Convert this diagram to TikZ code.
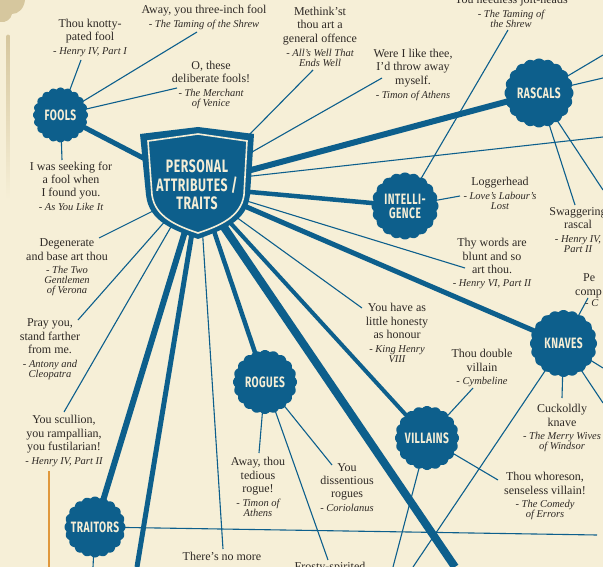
\documentclass[tikz,border=0pt]{standalone}
\usepackage{fontspec}
\setmainfont{Liberation Serif}
\newfontfamily\badgefam[FakeStretch=0.68,LetterSpace=3]{Fira Sans}
\definecolor{bgc}{HTML}{F6EFD7}
\definecolor{navy}{HTML}{0D5F8C}
\definecolor{ink}{HTML}{2E2925}
\definecolor{cream}{HTML}{F5EED6}
\definecolor{orng}{HTML}{E0983C}
\definecolor{tanc}{HTML}{D6C79E}
\pgfdeclarelayer{back}
\pgfdeclarelayer{bg}
\pgfsetlayers{back,bg,main}
\tikzset{
  qtext/.style={anchor=north, align=center, inner sep=0pt, text=ink, font=\fontsize{12}{13.3}\selectfont},
  ctext/.style={anchor=north, align=center, inner sep=0pt, text=ink, font=\itshape\fontsize{10.5}{10}\selectfont},
  conn/.style={draw=navy, line width=1.1pt},
  sconn/.style={conn, shorten <=-10pt},
  trunk/.style={draw=navy, line width=#1, shorten <=-12pt},
  badgelbl/.style={inner sep=0pt, text=cream, align=center, font=\badgefam\bfseries\fontsize{15}{14}\selectfont},
  shieldlbl/.style={inner sep=0pt, text=cream, align=center, font=\badgefam\bfseries\fontsize{18}{18.5}\selectfont},
}
\newcommand\qt[5]{%
  \node[qtext] (#1) at (#2,#3-9) {\rule{0pt}{9pt}#4\rule[-3pt]{0pt}{3pt}};
  \node[ctext] (#1c) at ([yshift=-3.3pt]#1.south) {\rule{0pt}{7pt}#5};}
\newcommand\badge[5]{%
  \fill[navy] plot[domain=0:360, samples=361, variable=\t]
    ({#2+(#4-1.8+1.8*abs(cos(10*\t)))*cos(\t)}, {#3+(#4-1.8+1.8*abs(cos(10*\t)))*sin(\t)}) -- cycle;
  \node[badgelbl] (#1) at (#2,#3) {#5};}
\begin{document}
\begin{tikzpicture}[x=1pt,y=-1pt]
\useasboundingbox (0,0) rectangle (603,567);
\begin{pgfonlayer}{back}
  \fill[bgc] (0,0) rectangle (603,567);
  \fill[tanc] (0,0) -- (0,22) .. controls (6,23) and (11,19) .. (12,14) .. controls (18,14) and (24,9) .. (25,0) -- cycle;
  \shade[top color=tanc, bottom color=bgc] (6.5,36) rectangle (9.5,200);
  \fill[tanc] (8,36) circle (1.5);
\end{pgfonlayer}
\draw[orng, line width=1.6pt] (49,471) -- (49,567);

% shield
\fill[navy] (140,134) -- (198,127) -- (254,134) -- (250,195) .. controls (247,222) and (222,230) .. (198,239) .. controls (174,230) and (149,222) .. (146,195) -- cycle;
\draw[cream, line width=1.6pt] (148,141) -- (198,134) -- (247,141) -- (244,195) .. controls (241,217) and (219,226) .. (198,233) .. controls (177,226) and (155,217) .. (152,195) -- cycle;
\node[shieldlbl] (shield) at (197,185) {PERSONAL\\ATTRIBUTES /\\TRAITS};

% badges
\badge{fools}{60.5}{115}{27.5}{FOOLS}
\badge{rascals}{539}{93}{34.5}{RASCALS}
\badge{intel}{405}{206}{33.5}{INTELLI-\\GENCE}
\badge{knaves}{563.5}{343.5}{33.5}{KNAVES}
\badge{rogues}{265}{382}{32}{ROGUES}
\badge{villains}{427}{438}{32}{VILLAINS}
\badge{traitors}{95}{527}{30.5}{TRAITORS}

% quotes
\qt{knotty}{90}{27}{Thou knotty-\\pated fool}{- Henry IV, Part I}
\qt{awayfool}{204}{13}{Away, you three-inch fool}{- The Taming of the Shrew}
\qt{delib}{211}{69}{O, these\\deliberate fools!}{- The Merchant\\of Venice}
\qt{seeking}{71}{170}{I was seeking for\\a fool when\\I found you.}{- As You Like It}
\qt{methink}{320}{15.5}{Methink’st\\thou art a\\general offence}{- All’s Well That\\Ends Well}
\qt{were}{413}{57.5}{Were I like thee,\\I’d throw away\\myself.}{- Timon of Athens}
\qt{jolt}{511}{3.5}{You needless jolt-heads}{- The Taming of\\the Shrew}
\qt{logger}{500}{185.5}{Loggerhead}{- Love’s Labour’s\\Lost}
\qt{swagger}{578}{215.5}{Swaggering\\rascal}{- Henry IV,\\Part II}
\qt{thy}{492}{246.5}{Thy words are\\blunt and so\\art thou.}{- Henry VI, Part II}
\qt{honesty}{397}{311.5}{You have as\\little honesty\\as honour}{- King Henry\\VIII}
\qt{double}{482}{357.5}{Thou double\\villain}{- Cymbeline}
\qt{cuckold}{562}{412.5}{Cuckoldly\\knave}{- The Merry Wives\\of Windsor}
\qt{whoreson}{545}{480.5}{Thou whoreson,\\senseless villain!}{- The Comedy\\of Errors}
\qt{tedious}{258}{465.5}{Away, thou\\tedious\\rogue!}{- Timon of\\Athens}
\qt{dissent}{347}{471}{You\\dissentious\\rogues}{- Coriolanus}
\qt{scullion}{64}{423.5}{You scullion,\\you rampallian,\\you fustilarian!}{- Henry IV, Part II}
\qt{pray}{50}{326.5}{Pray you,\\stand farther\\from me.}{- Antony and\\Cleopatra}
\qt{degen}{67}{246.5}{Degenerate\\and base art thou}{- The Two\\Gentlemen\\of Verona}
\node[qtext] (nomore) at (222,551.5) {\rule{0pt}{9pt}There’s no more};
\node[qtext] (frosty) at (330,561) {\rule{0pt}{9pt}Frosty-spirited};
\node[qtext, anchor=north west, align=left] (peev) at (575,272.5) {\rule{0pt}{9pt}\hspace*{8pt}Pe\\comp};
\node[ctext, anchor=north west] (peevc) at (585,299) {\rule{0pt}{7pt}- C};

% connector end points
\coordinate (sFo) at (147,160);
\coordinate (sMe) at (250,134);
\coordinate (sWe) at (252,152);
\coordinate (sRa) at (251,170);
\coordinate (sOff) at (252,176);
\coordinate (sIn) at (250,192);
\coordinate (sTh) at (250,202);
\coordinate (sKn) at (249,208);
\coordinate (sHo) at (243,222);
\coordinate (sVi) at (235,228);
\coordinate (sBig) at (228,233);
\coordinate (sRo) at (216,237);
\coordinate (sNo) at (203,240);
\coordinate (sDn) at (191,239);
\coordinate (sTr) at (183,238);
\coordinate (sSc) at (168,232);
\coordinate (sPr) at (160,227);
\coordinate (sDe) at (149,213);
\coordinate (tKnotty) at (81,60);
\coordinate (tAway) at (197,32);
\coordinate (tDelib) at (177,88);
\coordinate (tSeek) at (62,160);
\coordinate (tMeth) at (313,70);
\coordinate (tWere) at (382,78);
\coordinate (tOff) at (603,137);
\coordinate (tThy) at (465,268);
\coordinate (tHon) at (362,308);
\coordinate (tBig) at (455,567);
\coordinate (tNo) at (223,549);
\coordinate (tDn) at (137,567);
\coordinate (tScul) at (64,412);
\coordinate (tPray) at (78,320);
\coordinate (tDeg) at (99,238);
\coordinate (tJolt) at (508,30);
\coordinate (tLog) at (460,196);
\coordinate (tRa1) at (603,55);
\coordinate (tRa2) at (603,78);
\coordinate (tSwag) at (575,205);
\coordinate (tRa3) at (603,190);
\coordinate (tComp) at (588,298);
\coordinate (tKn1) at (603,368);
\coordinate (tKn2) at (603,403);
\coordinate (tCuck) at (562,398);
\coordinate (tKn3) at (413,567);
\coordinate (tDoub) at (473,388);
\coordinate (tWhor) at (498,480);
\coordinate (tVi) at (393,567);
\coordinate (tTed) at (259,453);
\coordinate (tDis) at (332,465);
\coordinate (tFro) at (328,560);
\coordinate (tTr1) at (597,535);
\coordinate (tTr2) at (93,567);

\begin{pgfonlayer}{bg}
  \draw[trunk=5pt] (sFo) -- (fools.center);
  \draw[trunk=6pt] (sRa) -- (rascals.center);
  \draw[trunk=4.5pt] (sIn) -- (intel.center);
  \draw[trunk=5pt] (sKn) -- (knaves.center);
  \draw[trunk=4pt] (sVi) -- (villains.center);
  \draw[trunk=8pt] (sBig) -- (tBig);
  \draw[trunk=4.5pt] (sRo) -- (rogues.center);
  \draw[trunk=5pt] (sDn) -- (tDn);
  \draw[trunk=6pt] (sTr) -- (traitors.center);
  \draw[sconn] (sMe) -- (tMeth);
  \draw[sconn] (sWe) -- (tWere);
  \draw[sconn] (sOff) -- (tOff);
  \draw[sconn] (sTh) -- (tThy);
  \draw[sconn] (sHo) -- (tHon);
  \draw[sconn] (sNo) -- (tNo);
  \draw[sconn] (sSc) -- (tScul);
  \draw[sconn] (sPr) -- (tPray);
  \draw[sconn] (sDe) -- (tDeg);
  \draw[conn] (fools.center) -- (tKnotty);
  \draw[conn] (fools.center) -- (tAway);
  \draw[conn] (fools.center) -- (tDelib);
  \draw[conn] (fools.center) -- (tSeek);
  \draw[conn] (intel.center) -- (tJolt);
  \draw[conn] (intel.center) -- (tLog);
  \draw[conn] (rascals.center) -- (tRa1);
  \draw[conn] (rascals.center) -- (tRa2);
  \draw[conn] (rascals.center) -- (tSwag);
  \draw[conn] (rascals.center) -- (tRa3);
  \draw[conn] (knaves.center) -- (tComp);
  \draw[conn] (knaves.center) -- (tKn1);
  \draw[conn] (knaves.center) -- (tKn2);
  \draw[conn] (knaves.center) -- (tCuck);
  \draw[conn] (knaves.center) -- (tKn3);
  \draw[conn] (villains.center) -- (tDoub);
  \draw[conn] (villains.center) -- (tWhor);
  \draw[conn] (villains.center) -- (tVi);
  \draw[conn] (rogues.center) -- (tTed);
  \draw[conn] (rogues.center) -- (tDis);
  \draw[conn] (rogues.center) -- (tFro);
  \draw[conn] (traitors.center) -- (tTr1);
  \draw[conn] (traitors.center) -- (tTr2);
\end{pgfonlayer}
\end{tikzpicture}
\end{document}
